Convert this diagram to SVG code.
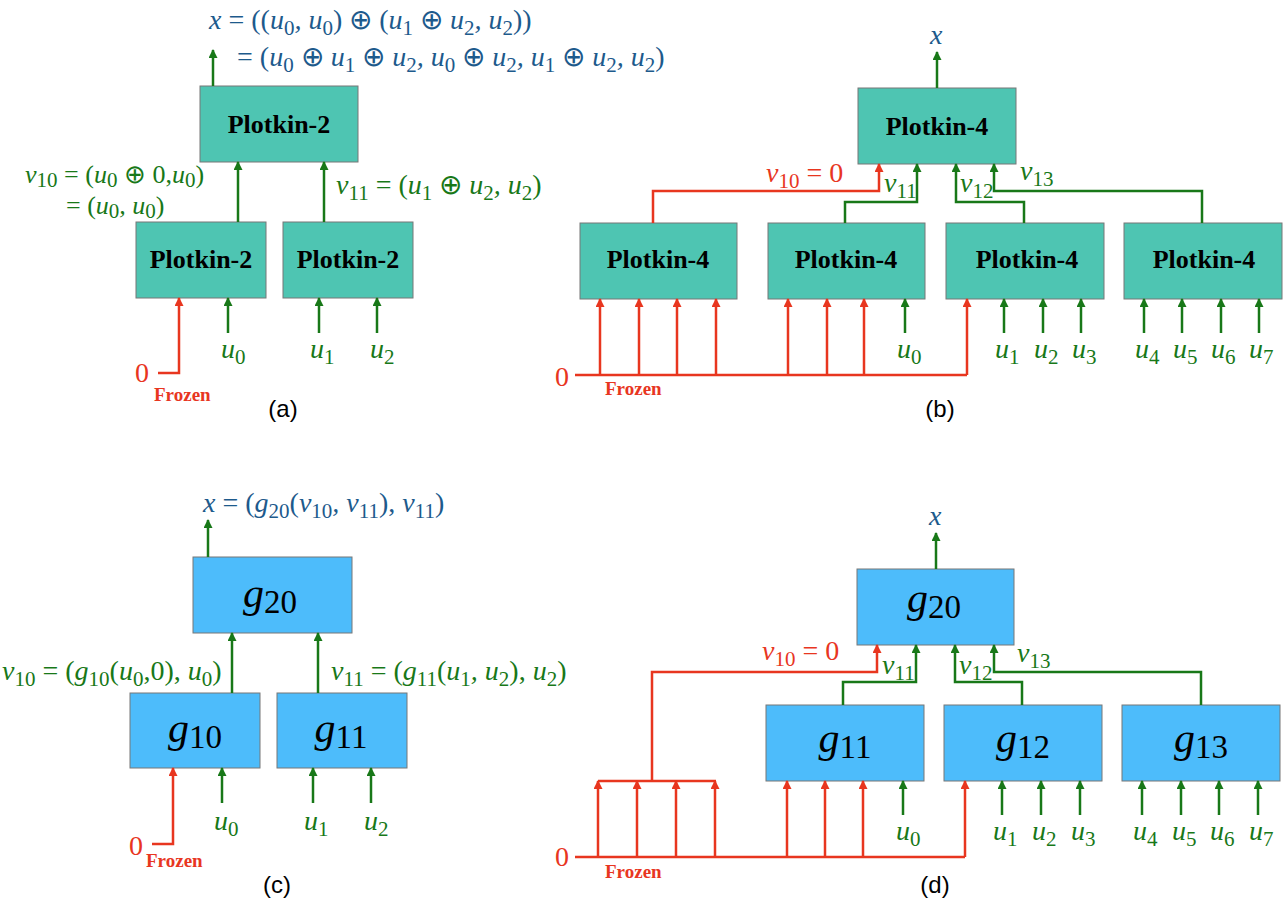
<svg xmlns="http://www.w3.org/2000/svg" width="1286" height="898" viewBox="0 0 1286 898">
<defs>
<marker id="ag" viewBox="0 0 10 10" refX="9" refY="5" markerWidth="10" markerHeight="9" markerUnits="userSpaceOnUse" orient="auto"><path d="M0,0 L10,5 L0,10 Z" fill="#187818"/></marker>
<marker id="ar" viewBox="0 0 10 10" refX="9" refY="5" markerWidth="10" markerHeight="9" markerUnits="userSpaceOnUse" orient="auto"><path d="M0,0 L10,5 L0,10 Z" fill="#e8361f"/></marker>
<style>
.t{fill:#4ec5b2;stroke:#777;stroke-width:1}
.b{fill:#4dbcfb;stroke:#777;stroke-width:1}
.pl{font-family:"Liberation Serif",serif;font-weight:bold;font-size:26px;text-anchor:middle;fill:#000}
.gl{font-family:"Liberation Serif",serif;font-style:italic;font-size:42px;text-anchor:middle;fill:#000}
.gs{font-size:33px;font-style:normal}
.g{stroke:#187818;stroke-width:2.5;fill:none;marker-end:url(#ag)}
.gn{stroke:#187818;stroke-width:2.5;fill:none}
.r{stroke:#e8361f;stroke-width:2.5;fill:none;marker-end:url(#ar)}
.rn{stroke:#e8361f;stroke-width:2.5;fill:none}
.m{font-family:"Liberation Serif",serif;font-style:italic;font-size:28px}
.m2{font-size:26px}
.bl{fill:#1d5a8c}.gr{fill:#187818}.rd{fill:#e8361f}
.s{font-size:21px;font-style:normal}
.o{font-style:normal}
.fz{font-family:"Liberation Serif",serif;font-weight:bold;font-size:19px;fill:#e8361f}
.cap{font-family:"Liberation Sans",sans-serif;font-size:24px;fill:#000;text-anchor:middle}
.z{font-family:"Liberation Serif",serif;font-size:28px;fill:#e8361f}
</style>
</defs>

<g id="nodes">
<g id="a-top"><rect class="t" x="200" y="86" width="158" height="76"/><text class="pl" x="279" y="133">Plotkin-2</text></g>
<g id="a-l"><rect class="t" x="136" y="222" width="130" height="76"/><text class="pl" x="201" y="268">Plotkin-2</text></g>
<g id="a-r"><rect class="t" x="283" y="222" width="130" height="76"/><text class="pl" x="348" y="268">Plotkin-2</text></g>

<g id="b-top"><rect class="t" x="858" y="88" width="158" height="76"/><text class="pl" x="937" y="135">Plotkin-4</text></g>
<g id="b-1"><rect class="t" x="580" y="223" width="157" height="76"/><text class="pl" x="658" y="268">Plotkin-4</text></g>
<g id="b-2"><rect class="t" x="768" y="223" width="157" height="76"/><text class="pl" x="846" y="268">Plotkin-4</text></g>
<g id="b-3"><rect class="t" x="946" y="223" width="158" height="76"/><text class="pl" x="1027" y="268">Plotkin-4</text></g>
<g id="b-4"><rect class="t" x="1124" y="223" width="158" height="76"/><text class="pl" x="1204" y="268">Plotkin-4</text></g>

<g id="c-top"><rect class="b" x="193" y="557" width="159" height="76"/><text class="gl" x="270" y="607">g<tspan class="gs" dy="6">20</tspan></text></g>
<g id="c-l"><rect class="b" x="130" y="693" width="130" height="75"/><text class="gl" x="195" y="742">g<tspan class="gs" dy="6">10</tspan></text></g>
<g id="c-r"><rect class="b" x="277" y="693" width="130" height="75"/><text class="gl" x="341" y="742">g<tspan class="gs" dy="6">11</tspan></text></g>

<g id="d-top"><rect class="b" x="857" y="569" width="157" height="76"/><text class="gl" x="934" y="612">g<tspan class="gs" dy="6">20</tspan></text></g>
<g id="d-1"><rect class="b" x="766" y="705" width="158" height="76"/><text class="gl" x="845" y="752">g<tspan class="gs" dy="6">11</tspan></text></g>
<g id="d-2"><rect class="b" x="944" y="705" width="158" height="76"/><text class="gl" x="1023" y="752">g<tspan class="gs" dy="6">12</tspan></text></g>
<g id="d-3"><rect class="b" x="1122" y="705" width="158" height="76"/><text class="gl" x="1201" y="752">g<tspan class="gs" dy="6">13</tspan></text></g>
</g>

<g id="connectors">
<line class="g" x1="213" y1="86" x2="213" y2="50"/>
<line class="g" x1="238" y1="222" x2="238" y2="162"/>
<line class="g" x1="324" y1="222" x2="324" y2="162"/>
<path class="r" d="M158,373 H179 V298"/>
<line class="g" x1="228" y1="333" x2="228" y2="298"/>
<line class="g" x1="319" y1="333" x2="319" y2="298"/>
<line class="g" x1="377" y1="333" x2="377" y2="298"/>
<line class="g" x1="937" y1="88" x2="937" y2="52"/>
<path class="r" d="M653,223 V191 H879 V164"/>
<path class="g" d="M845,223 V202 H917 V164"/>
<path class="g" d="M1024,223 V202 H956 V164"/>
<path class="g" d="M1202,223 V191 H994 V164"/>
<line class="rn" x1="575" y1="375" x2="967" y2="375"/>
<line class="r" x1="600" y1="375" x2="600" y2="299"/>
<line class="r" x1="639" y1="375" x2="639" y2="299"/>
<line class="r" x1="677" y1="375" x2="677" y2="299"/>
<line class="r" x1="716" y1="375" x2="716" y2="299"/>
<line class="r" x1="788" y1="375" x2="788" y2="299"/>
<line class="r" x1="827" y1="375" x2="827" y2="299"/>
<line class="r" x1="864" y1="375" x2="864" y2="299"/>
<line class="r" x1="967" y1="375" x2="967" y2="299"/>
<line class="g" x1="905" y1="333" x2="905" y2="299"/>
<line class="g" x1="1004" y1="333" x2="1004" y2="299"/>
<line class="g" x1="1043" y1="333" x2="1043" y2="299"/>
<line class="g" x1="1081" y1="333" x2="1081" y2="299"/>
<line class="g" x1="1144" y1="333" x2="1144" y2="299"/>
<line class="g" x1="1182" y1="333" x2="1182" y2="299"/>
<line class="g" x1="1221" y1="333" x2="1221" y2="299"/>
<line class="g" x1="1259" y1="333" x2="1259" y2="299"/>
<line class="g" x1="208" y1="557" x2="208" y2="520"/>
<line class="g" x1="232" y1="693" x2="232" y2="633"/>
<line class="g" x1="318" y1="693" x2="318" y2="633"/>
<path class="r" d="M152,844 H173 V768"/>
<line class="g" x1="222" y1="803" x2="222" y2="768"/>
<line class="g" x1="313" y1="803" x2="313" y2="768"/>
<line class="g" x1="371" y1="803" x2="371" y2="768"/>
<line class="g" x1="936" y1="569" x2="936" y2="533"/>
<path class="r" d="M652,781 V672 H877 V645"/>
<path class="g" d="M843,705 V682 H916 V645"/>
<path class="g" d="M1022,705 V682 H955 V645"/>
<path class="g" d="M1201,705 V672 H994 V645"/>
<line class="rn" x1="598" y1="781" x2="716" y2="781"/>
<line class="rn" x1="575" y1="857" x2="965" y2="857"/>
<line class="r" x1="598" y1="857" x2="598" y2="781"/>
<line class="r" x1="637" y1="857" x2="637" y2="781"/>
<line class="r" x1="676" y1="857" x2="676" y2="781"/>
<line class="r" x1="715" y1="857" x2="715" y2="781"/>
<line class="r" x1="787" y1="857" x2="787" y2="781"/>
<line class="r" x1="825" y1="857" x2="825" y2="781"/>
<line class="r" x1="863" y1="857" x2="863" y2="781"/>
<line class="r" x1="965" y1="857" x2="965" y2="781"/>
<line class="g" x1="903" y1="815" x2="903" y2="781"/>
<line class="g" x1="1002" y1="815" x2="1002" y2="781"/>
<line class="g" x1="1041" y1="815" x2="1041" y2="781"/>
<line class="g" x1="1080" y1="815" x2="1080" y2="781"/>
<line class="g" x1="1142" y1="815" x2="1142" y2="781"/>
<line class="g" x1="1181" y1="815" x2="1181" y2="781"/>
<line class="g" x1="1219" y1="815" x2="1219" y2="781"/>
<line class="g" x1="1258" y1="815" x2="1258" y2="781"/>
</g>

<g id="labels">
<text class="m bl" x="209" y="29">x  <tspan class="o">= ((</tspan>u<tspan class="s" dy="6">0</tspan><tspan dy="-6">, u</tspan><tspan class="s" dy="6">0</tspan><tspan dy="-6" class="o">) ⊕ (</tspan>u<tspan class="s" dy="6">1</tspan><tspan dy="-6" class="o"> ⊕ </tspan>u<tspan class="s" dy="6">2</tspan><tspan dy="-6">, u</tspan><tspan class="s" dy="6">2</tspan><tspan dy="-6" class="o">))</tspan></text>
<text class="m bl" x="237" y="66"><tspan class="o">= (</tspan>u<tspan class="s" dy="6">0</tspan><tspan dy="-6" class="o"> ⊕ </tspan>u<tspan class="s" dy="6">1</tspan><tspan dy="-6" class="o"> ⊕ </tspan>u<tspan class="s" dy="6">2</tspan><tspan dy="-6">, u</tspan><tspan class="s" dy="6">0</tspan><tspan dy="-6" class="o"> ⊕ </tspan>u<tspan class="s" dy="6">2</tspan><tspan dy="-6">, u</tspan><tspan class="s" dy="6">1</tspan><tspan dy="-6" class="o"> ⊕ </tspan>u<tspan class="s" dy="6">2</tspan><tspan dy="-6">, u</tspan><tspan class="s" dy="6">2</tspan><tspan dy="-6" class="o">)</tspan></text>
<text class="m m2 gr" x="25" y="183">v<tspan class="s" dy="4">10</tspan><tspan dy="-4" class="o"> = (</tspan>u<tspan class="s" dy="4">0</tspan><tspan dy="-4" class="o"> ⊕ 0,</tspan>u<tspan class="s" dy="4">0</tspan><tspan dy="-4" class="o">)</tspan></text>
<text class="m m2 gr" x="66" y="214"><tspan class="o">= (</tspan>u<tspan class="s" dy="4">0</tspan><tspan dy="-4">, u</tspan><tspan class="s" dy="4">0</tspan><tspan dy="-4" class="o">)</tspan></text>
<text class="m gr" x="336" y="194">v<tspan class="s" dy="6">11</tspan><tspan dy="-6" class="o"> = (</tspan>u<tspan class="s" dy="6">1</tspan><tspan dy="-6" class="o"> ⊕ </tspan>u<tspan class="s" dy="6">2</tspan><tspan dy="-6">, u</tspan><tspan class="s" dy="6">2</tspan><tspan dy="-6" class="o">)</tspan></text>
<text class="z" x="135" y="382">0</text>
<text class="fz" x="154" y="401">Frozen</text>
<text class="m gr" x="221" y="358">u<tspan class="s" dy="6">0</tspan></text>
<text class="m gr" x="310" y="358">u<tspan class="s" dy="6">1</tspan></text>
<text class="m gr" x="370" y="358">u<tspan class="s" dy="6">2</tspan></text>
<text class="cap" x="283" y="417">(a)</text>
<text class="m bl" x="930" y="44">x</text>
<text class="m rd" x="766" y="182">v<tspan class="s" dy="6">10</tspan><tspan dy="-6" class="o"> = 0</tspan></text>
<text class="m gr" x="884" y="192">v<tspan class="s" dy="6">11</tspan></text>
<text class="m gr" x="960" y="192">v<tspan class="s" dy="6">12</tspan></text>
<text class="m gr" x="1020" y="180">v<tspan class="s" dy="6">13</tspan></text>
<text class="z" x="555" y="386">0</text>
<text class="fz" x="605" y="395">Frozen</text>
<text class="m gr" x="897" y="358">u<tspan class="s" dy="6">0</tspan></text>
<text class="m gr" x="995" y="358">u<tspan class="s" dy="6">1</tspan></text>
<text class="m gr" x="1034" y="358">u<tspan class="s" dy="6">2</tspan></text>
<text class="m gr" x="1072" y="358">u<tspan class="s" dy="6">3</tspan></text>
<text class="m gr" x="1135" y="358">u<tspan class="s" dy="6">4</tspan></text>
<text class="m gr" x="1173" y="358">u<tspan class="s" dy="6">5</tspan></text>
<text class="m gr" x="1211" y="358">u<tspan class="s" dy="6">6</tspan></text>
<text class="m gr" x="1249" y="358">u<tspan class="s" dy="6">7</tspan></text>
<text class="cap" x="940" y="417">(b)</text>
<text class="m bl" x="203" y="512">x  <tspan class="o">= (</tspan>g<tspan class="s" dy="6">20</tspan><tspan dy="-6" class="o">(</tspan>v<tspan class="s" dy="6">10</tspan><tspan dy="-6">, v</tspan><tspan class="s" dy="6">11</tspan><tspan dy="-6" class="o">), </tspan>v<tspan class="s" dy="6">11</tspan><tspan dy="-6" class="o">)</tspan></text>
<text class="m gr" x="2" y="680">v<tspan class="s" dy="6">10</tspan><tspan dy="-6" class="o"> = (</tspan>g<tspan class="s" dy="6">10</tspan><tspan dy="-6" class="o">(</tspan>u<tspan class="s" dy="6">0</tspan><tspan dy="-6" class="o">,0), </tspan>u<tspan class="s" dy="6">0</tspan><tspan dy="-6" class="o">)</tspan></text>
<text class="m gr" x="331" y="680">v<tspan class="s" dy="6">11</tspan><tspan dy="-6" class="o"> = (</tspan>g<tspan class="s" dy="6">11</tspan><tspan dy="-6" class="o">(</tspan>u<tspan class="s" dy="6">1</tspan><tspan dy="-6">, u</tspan><tspan class="s" dy="6">2</tspan><tspan dy="-6" class="o">), </tspan>u<tspan class="s" dy="6">2</tspan><tspan dy="-6" class="o">)</tspan></text>
<text class="z" x="129" y="855" font-size="24">0</text>
<text class="fz" x="146" y="867">Frozen</text>
<text class="m gr" x="214" y="830">u<tspan class="s" dy="6">0</tspan></text>
<text class="m gr" x="304" y="830">u<tspan class="s" dy="6">1</tspan></text>
<text class="m gr" x="364" y="830">u<tspan class="s" dy="6">2</tspan></text>
<text class="cap" x="277" y="893">(c)</text>
<text class="m bl" x="929" y="525">x</text>
<text class="m rd" x="762" y="660">v<tspan class="s" dy="6">10</tspan><tspan dy="-6" class="o"> = 0</tspan></text>
<text class="m gr" x="882" y="674">v<tspan class="s" dy="6">11</tspan></text>
<text class="m gr" x="959" y="674">v<tspan class="s" dy="6">12</tspan></text>
<text class="m gr" x="1017" y="662">v<tspan class="s" dy="6">13</tspan></text>
<text class="z" x="555" y="866">0</text>
<text class="fz" x="605" y="878">Frozen</text>
<text class="m gr" x="896" y="840">u<tspan class="s" dy="6">0</tspan></text>
<text class="m gr" x="993" y="840">u<tspan class="s" dy="6">1</tspan></text>
<text class="m gr" x="1032" y="840">u<tspan class="s" dy="6">2</tspan></text>
<text class="m gr" x="1071" y="840">u<tspan class="s" dy="6">3</tspan></text>
<text class="m gr" x="1133" y="840">u<tspan class="s" dy="6">4</tspan></text>
<text class="m gr" x="1172" y="840">u<tspan class="s" dy="6">5</tspan></text>
<text class="m gr" x="1210" y="840">u<tspan class="s" dy="6">6</tspan></text>
<text class="m gr" x="1249" y="840">u<tspan class="s" dy="6">7</tspan></text>
<text class="cap" x="935" y="893">(d)</text>
</g>
</svg>
